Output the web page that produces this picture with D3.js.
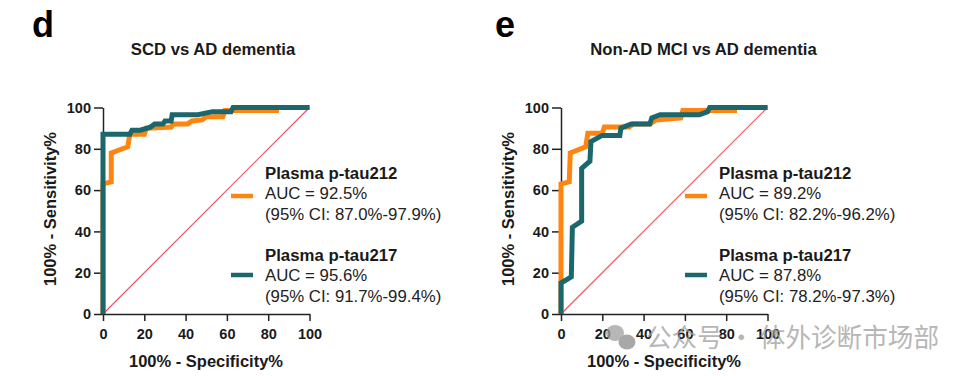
<!DOCTYPE html>
<html>
<head>
<meta charset="utf-8">
<script src="https://cdn.jsdelivr.net/npm/d3@7"></script>
<style>
html, body { margin: 0; padding: 0; background: #fff; }
svg { display: block; font-family: "Liberation Sans", Arial, sans-serif; }
</style>
</head>
<body>
<div id="chart"></div>
<script>
const ticks = [0, 20, 40, 60, 80, 100];
const diagonal = [[0, 0], [100, 100]];

// [100 - specificity, sensitivity]
const scdTau212 = [[0, 0], [0, 63], [4, 64], [4, 78], [12, 81], [13, 87], [20, 87], [21, 90], [33, 90.5], [34, 92], [41, 92], [43, 93.5], [48, 94], [50, 95.5], [58, 95.5], [59, 98.5], [84, 98.5], [84, 100], [100, 100]];
const scdTau217 = [[0, 0], [0, 87], [13, 87], [14, 89], [18, 89], [23, 90.5], [25, 92], [29, 92], [30, 93.5], [33, 93.5], [33.5, 96.5], [46, 96.5], [53, 98], [62, 98], [63, 100], [100, 100]];
const mciTau212 = [[0, 0], [0, 63], [4, 64], [4.5, 78], [12, 81], [13, 87.5], [20, 87.5], [21, 90.5], [33, 90.5], [35, 92], [43, 92], [46, 94], [58, 95], [59, 98.5], [84, 98.5], [84, 100], [100, 100]];
const mciTau217 = [[0, 0], [0, 15], [5, 18], [5.5, 42], [10, 45], [10, 70.5], [14, 74], [14.5, 83.5], [20, 86.5], [28.5, 86.5], [29, 90], [34, 92], [43, 92], [44, 95], [48, 96.5], [67, 96.5], [71, 98], [72, 100], [100, 100]];

const panelLetters = ['d', 'e'];
const panelTitles = ['SCD vs AD dementia', 'Non-AD MCI vs AD dementia'];
const seriesNames = ['Plasma p-tau212', 'Plasma p-tau217'];
const aucLabels = [['AUC = 92.5%', 'AUC = 95.6%'], ['AUC = 89.2%', 'AUC = 87.8%']];
const ciLabels = [['(95% CI: 87.0%-97.9%)', '(95% CI: 91.7%-99.4%)'], ['(95% CI: 82.2%-96.2%)', '(95% CI: 78.2%-97.3%)']];
const curves = [[scdTau212, scdTau217], [mciTau212, mciTau217]];

const width = 969, height = 376;
const COLORS = { tau212: '#ff8410', tau217: '#1b676c', diagonal: '#f2505f', ink: '#1a1a1a' };
const seriesColors = [COLORS.tau212, COLORS.tau217];

const svg = d3.select('#chart').append('svg')
    .attr('width', width).attr('height', height)
    .attr('viewBox', `0 0 ${width} ${height}`);

function drawPanel(i, left, letterX, titleX, legendX) {
    const x = d3.scaleLinear().domain([0, 100]).range([left, left + 206.5]);
    const y = d3.scaleLinear().domain([0, 100]).range([314, 107.5]);
    const line = d3.line().x((d) => x(d[0])).y((d) => y(d[1]));

    svg.append('text').attr('x', letterX).attr('y', 37)
        .style('font-size', '36px').style('font-weight', 700).attr('fill', '#000')
        .text(panelLetters[i]);
    svg.append('text').attr('x', titleX).attr('y', 55)
        .attr('text-anchor', 'middle')
        .style('font-size', '16.7px').style('font-weight', 700).attr('fill', COLORS.ink)
        .text(panelTitles[i]);

    // axes
    const xAxis = svg.append('g').attr('transform', 'translate(0,314)')
        .call(d3.axisBottom(x).tickValues(ticks).tickSize(7).tickSizeOuter(0).tickPadding(8));
    const yAxis = svg.append('g').attr('transform', `translate(${left},0)`)
        .call(d3.axisLeft(y).tickValues(ticks).tickSize(9).tickSizeOuter(0).tickPadding(3));
    [xAxis, yAxis].forEach((axis) => {
        axis.attr('font-family', null).attr('font-size', null);
        axis.selectAll('path, line').attr('stroke', '#222').attr('stroke-width', 1.5);
        axis.selectAll('text').attr('fill', COLORS.ink)
            .style('font-size', '14.5px').style('font-weight', 700);
    });

    svg.append('path').datum(diagonal).attr('d', line)
        .attr('fill', 'none').attr('stroke', COLORS.diagonal).attr('stroke-width', 1.2);

    curves[i].forEach((curve, s) => {
        svg.append('path').datum(curve).attr('d', line)
            .attr('fill', 'none').attr('stroke', seriesColors[s])
            .attr('stroke-width', 5).attr('stroke-linejoin', 'miter');
    });

    // axis titles
    svg.append('text').attr('x', left + 103).attr('y', 367).attr('text-anchor', 'middle')
        .style('font-size', '16.5px').style('font-weight', 700).attr('fill', COLORS.ink)
        .text('100% - Specificity%');
    svg.append('text').attr('transform', `translate(${left - 47},${209}) rotate(-90)`)
        .attr('text-anchor', 'middle')
        .style('font-size', '16.5px').style('font-weight', 700).attr('fill', COLORS.ink)
        .text('100% - Sensitivity%');

    // legend blocks
    seriesNames.forEach((name, s) => {
        const top = s === 0 ? 179 : 261;
        svg.append('text').attr('x', legendX).attr('y', top)
            .style('font-size', '16.8px').style('font-weight', 700).attr('fill', COLORS.ink)
            .text(name);
        svg.append('text').attr('x', legendX).attr('y', top + 20)
            .style('font-size', '16.8px').attr('fill', '#222').text(aucLabels[i][s]);
        svg.append('text').attr('x', legendX).attr('y', top + 41)
            .style('font-size', '16.8px').attr('fill', '#222').text(ciLabels[i][s]);
        svg.append('line')
            .attr('x1', legendX - 34).attr('x2', legendX - 12)
            .attr('y1', s === 0 ? 196 : 275).attr('y2', s === 0 ? 196 : 275)
            .attr('stroke', seriesColors[s]).attr('stroke-width', 4.5);
    });
}

drawPanel(0, 103, 32, 213, 265);
drawPanel(1, 561, 495, 703.5, 719);

// watermark over panel e
const mark = svg.append('g').attr('opacity', 0.75);
mark.append('ellipse').attr('cx', 615).attr('cy', 333).attr('rx', 9).attr('ry', 8).attr('fill', '#a0a0a0');
mark.append('ellipse').attr('cx', 627).attr('cy', 342).attr('rx', 8.5).attr('ry', 7.5).attr('fill', '#8c8c8c');
mark.append('text').attr('x', 646).attr('y', 347)
    .style('font-family', '"Noto Sans CJK SC"').style('font-size', '25.6px')
    .attr('fill', '#9e9e9e').text('公众号 · 体外诊断市场部');
</script>
</body>
</html>
